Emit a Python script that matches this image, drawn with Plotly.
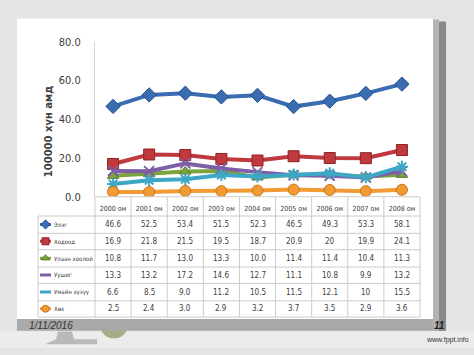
import plotly.graph_objects as go

W, H = 474, 355

years = ["2000 ом", "2001 ом", "2002 ом", "2003 ом", "2004 ом", "2005 ом", "2006 ом", "2007 ом", "2008 ом"]
series_names = ["Элэг", "Ходоод", "Улаан хоолой", "Уушиг", "Умайн хүзүү", "Хөх"]
elag = [46.6, 52.5, 53.4, 51.5, 52.3, 46.5, 49.3, 53.3, 58.1]
hodood = [16.9, 21.8, 21.5, 19.5, 18.7, 20.9, 20, 19.9, 24.1]
ulaan_hoolol = [10.8, 11.7, 13.0, 13.3, 10.0, 11.4, 11.4, 10.4, 11.3]
uushig = [13.3, 13.2, 17.2, 14.6, 12.7, 11.1, 10.8, 9.9, 13.2]
umain_huzuu = [6.6, 8.5, 9.0, 11.2, 10.5, 11.5, 12.1, 10, 15.5]
hoh = [2.5, 2.4, 3.0, 2.9, 3.2, 3.7, 3.5, 2.9, 3.6]
table_text = [
    ["46.6", "52.5", "53.4", "51.5", "52.3", "46.5", "49.3", "53.3", "58.1"],
    ["16.9", "21.8", "21.5", "19.5", "18.7", "20.9", "20", "19.9", "24.1"],
    ["10.8", "11.7", "13.0", "13.3", "10.0", "11.4", "11.4", "10.4", "11.3"],
    ["13.3", "13.2", "17.2", "14.6", "12.7", "11.1", "10.8", "9.9", "13.2"],
    ["6.6", "8.5", "9.0", "11.2", "10.5", "11.5", "12.1", "10", "15.5"],
    ["2.5", "2.4", "3.0", "2.9", "3.2", "3.7", "3.5", "2.9", "3.6"],
]
y_ticks = [0, 20, 40, 60, 80]

values = [elag, hodood, ulaan_hoolol, uushig, umain_huzuu, hoh]
colors = ["#3a6cb2", "#c0393d", "#7ba43c", "#7e5ea6", "#3fa7c6", "#f29a33"]
edge = ["#27508c", "#8e2426", "#5a7d25", "#5e4282", "#2a7f99", "#c87418"]
symbols = ["diamond", "square", "triangle-up", "x-thin-open", "asterisk-open", "circle"]
msizes = [11, 11, 10, 10, 10, 11]

NARROW = "Liberation Sans Narrow, DejaVu Sans Condensed, Arial Narrow, sans-serif"


def px(x):
    return x / W


def py(y):
    return 1 - y / H


fig = go.Figure()

for i, (name, vals) in enumerate(zip(series_names, values)):
    open_sym = symbols[i].endswith("open")
    fig.add_trace(go.Scatter(
        x=years, y=vals, name=name, mode="lines+markers",
        line=dict(color=colors[i], width=4),
        marker=dict(symbol=symbols[i], size=msizes[i], color=colors[i],
                    line=dict(color=colors[i] if open_sym else edge[i], width=2 if open_sym else 1)),
        showlegend=False, hoverinfo="skip",
    ))

# legend keys in the table's first column
for i, name in enumerate(series_names):
    open_sym = symbols[i].endswith("open")
    fig.add_trace(go.Scatter(
        x=[2, 13], y=[i + 0.5, i + 0.5], mode="lines", xaxis="x2", yaxis="y2",
        line=dict(color=colors[i], width=3), showlegend=False, hoverinfo="skip"))
    if not open_sym:
        fig.add_trace(go.Scatter(
            x=[7.5], y=[i + 0.5], mode="markers", xaxis="x2", yaxis="y2",
            marker=dict(symbol=symbols[i], size=7, color=colors[i], line=dict(color=edge[i], width=1)),
            showlegend=False, hoverinfo="skip"))

# geometry (pixels)
x_left_tbl, x_plot0, x_plot1 = 38, 95, 420
y_top_plot, y_axis, y_hdr, y_bot = 37, 198, 218, 323
row_lines = [218, 236, 253, 271, 288, 306, 323]

shapes = []
shapes.append(dict(type="rect", xref="paper", yref="paper", x0=0, x1=1, y0=0, y1=1,
                   fillcolor="#e4e4e4", line=dict(width=0), layer="below"))
shapes.append(dict(type="rect", xref="paper", yref="paper", x0=0, x1=1, y0=py(355), y1=py(338),
                   fillcolor="#ececec", line=dict(width=0), layer="below"))
shapes.append(dict(type="circle", xref="paper", yref="paper", x0=px(100), x1=px(128), y0=py(345), y1=py(317),
                   fillcolor="#a4ad83", line=dict(width=0), layer="below"))
shapes.append(dict(type="path", xref="paper", yref="paper",
                   path=f"M {px(58)} {py(338)} L {px(72)} {py(338)} L {px(74)} {py(346)} L {px(97)} {py(346)} L {px(97)} {py(351)} L {px(45)} {py(351)} L {px(56)} {py(346)} Z",
                   fillcolor="#b9b9b9", line=dict(width=0), layer="below"))
shapes.append(dict(type="rect", xref="paper", yref="paper", x0=px(17), x1=px(446), y0=py(337), y1=py(324),
                   fillcolor="#a9a9a9", line=dict(width=0), layer="below"))
shapes.append(dict(type="rect", xref="paper", yref="paper", x0=px(433), x1=px(446), y0=py(337), y1=py(16),
                   fillcolor="#8a8a8a", line=dict(width=0), layer="below"))
shapes.append(dict(type="rect", xref="paper", yref="paper", x0=px(433), x1=px(439), y0=py(337), y1=py(14),
                   fillcolor="#b4b4b4", line=dict(width=0), layer="below"))
shapes.append(dict(type="rect", xref="paper", yref="paper", x0=px(17), x1=px(433), y0=py(325), y1=py(13),
                   fillcolor="#ffffff", line=dict(width=0), layer="below"))

grid = dict(color="#cccccc", width=1)
shapes.append(dict(type="line", xref="paper", yref="paper", x0=px(x_plot0), x1=px(x_plot1),
                   y0=py(y_axis), y1=py(y_axis), line=grid))
for yy in row_lines:
    shapes.append(dict(type="line", xref="paper", yref="paper", x0=px(x_left_tbl), x1=px(x_plot1),
                       y0=py(yy), y1=py(yy), line=grid))
n = len(years)
for k in range(n + 1):
    shapes.append(dict(type="line", xref="x domain", yref="paper", x0=k / n, x1=k / n,
                       y0=py(y_axis), y1=py(y_bot), line=grid))
shapes.append(dict(type="line", xref="paper", yref="paper", x0=px(x_left_tbl), x1=px(x_left_tbl),
                   y0=py(y_hdr), y1=py(y_bot), line=grid))

annotations = []
for r, row in enumerate(table_text):
    yc = (row_lines[r] + row_lines[r + 1]) / 2
    for c, txt in enumerate(row):
        annotations.append(dict(x=years[c], y=py(yc), xref="x", yref="paper", text=txt, showarrow=False,
                                yanchor="middle", font=dict(family=NARROW, size=8, color="#404040")))
for i, name in enumerate(series_names):
    annotations.append(dict(x=13.5, y=i + 0.5, xref="x2", yref="y2", text=name, showarrow=False, xanchor="left",
                            yanchor="middle", font=dict(family=NARROW, size=6, color="#404040")))
annotations.append(dict(x=px(48), y=py(130), xref="paper", yref="paper", text="<b>100000 хүн амд</b>",
                        textangle=-90, showarrow=False, xanchor="center", yanchor="middle",
                        font=dict(family="DejaVu Sans, Arial", size=10, color="#404040")))
annotations.append(dict(x=px(27), y=py(332), xref="paper", yref="paper", text="<i>1/11/2016</i>", xanchor="left",
                        yanchor="middle", showarrow=False, font=dict(family="Liberation Sans, Arial", size=10, color="#333333")))
annotations.append(dict(x=px(447), y=py(332), xref="paper", yref="paper", text="<b><i>11</i></b>", xanchor="right",
                        yanchor="middle", showarrow=False, font=dict(family="Liberation Sans, Arial", size=10, color="#222222")))
annotations.append(dict(x=px(471), y=py(347), xref="paper", yref="paper", text="www.fppt.info", xanchor="right",
                        yanchor="middle", showarrow=False, font=dict(family="Liberation Sans, Arial", size=7, color="#333333")))

fig.update_layout(
    width=W, height=H, margin=dict(l=0, r=0, t=0, b=0),
    paper_bgcolor="#e4e4e4", plot_bgcolor="rgba(0,0,0,0)",
    shapes=shapes, annotations=annotations,
    xaxis=dict(domain=[px(x_plot0), px(x_plot1)], type="category", categoryorder="array", categoryarray=years,
               range=[-0.5, n - 0.5], showgrid=False, zeroline=False, showline=False,
               tickfont=dict(family=NARROW, size=7, color="#404040"), ticklabelstandoff=6, fixedrange=True),
    yaxis=dict(domain=[py(y_axis), py(y_top_plot)], range=[0, 80], tickvals=y_ticks, tickformat=".1f",
               showgrid=False, zeroline=False, showline=True, linecolor="#d3d3d3",
               tickfont=dict(family=NARROW, size=11, color="#404040"), ticklabelstandoff=11, fixedrange=True),
    xaxis2=dict(domain=[px(x_left_tbl), px(x_plot0)], range=[0, x_plot0 - x_left_tbl], visible=False,
                fixedrange=True, anchor="y2"),
    yaxis2=dict(domain=[py(y_bot), py(y_hdr)], range=[6, 0], visible=False, fixedrange=True, anchor="x2"),
)

fig.write_html("out.html", config={"displayModeBar": False},
               post_script="document.body.style.margin='0px';document.body.style.background='#e4e4e4';")
